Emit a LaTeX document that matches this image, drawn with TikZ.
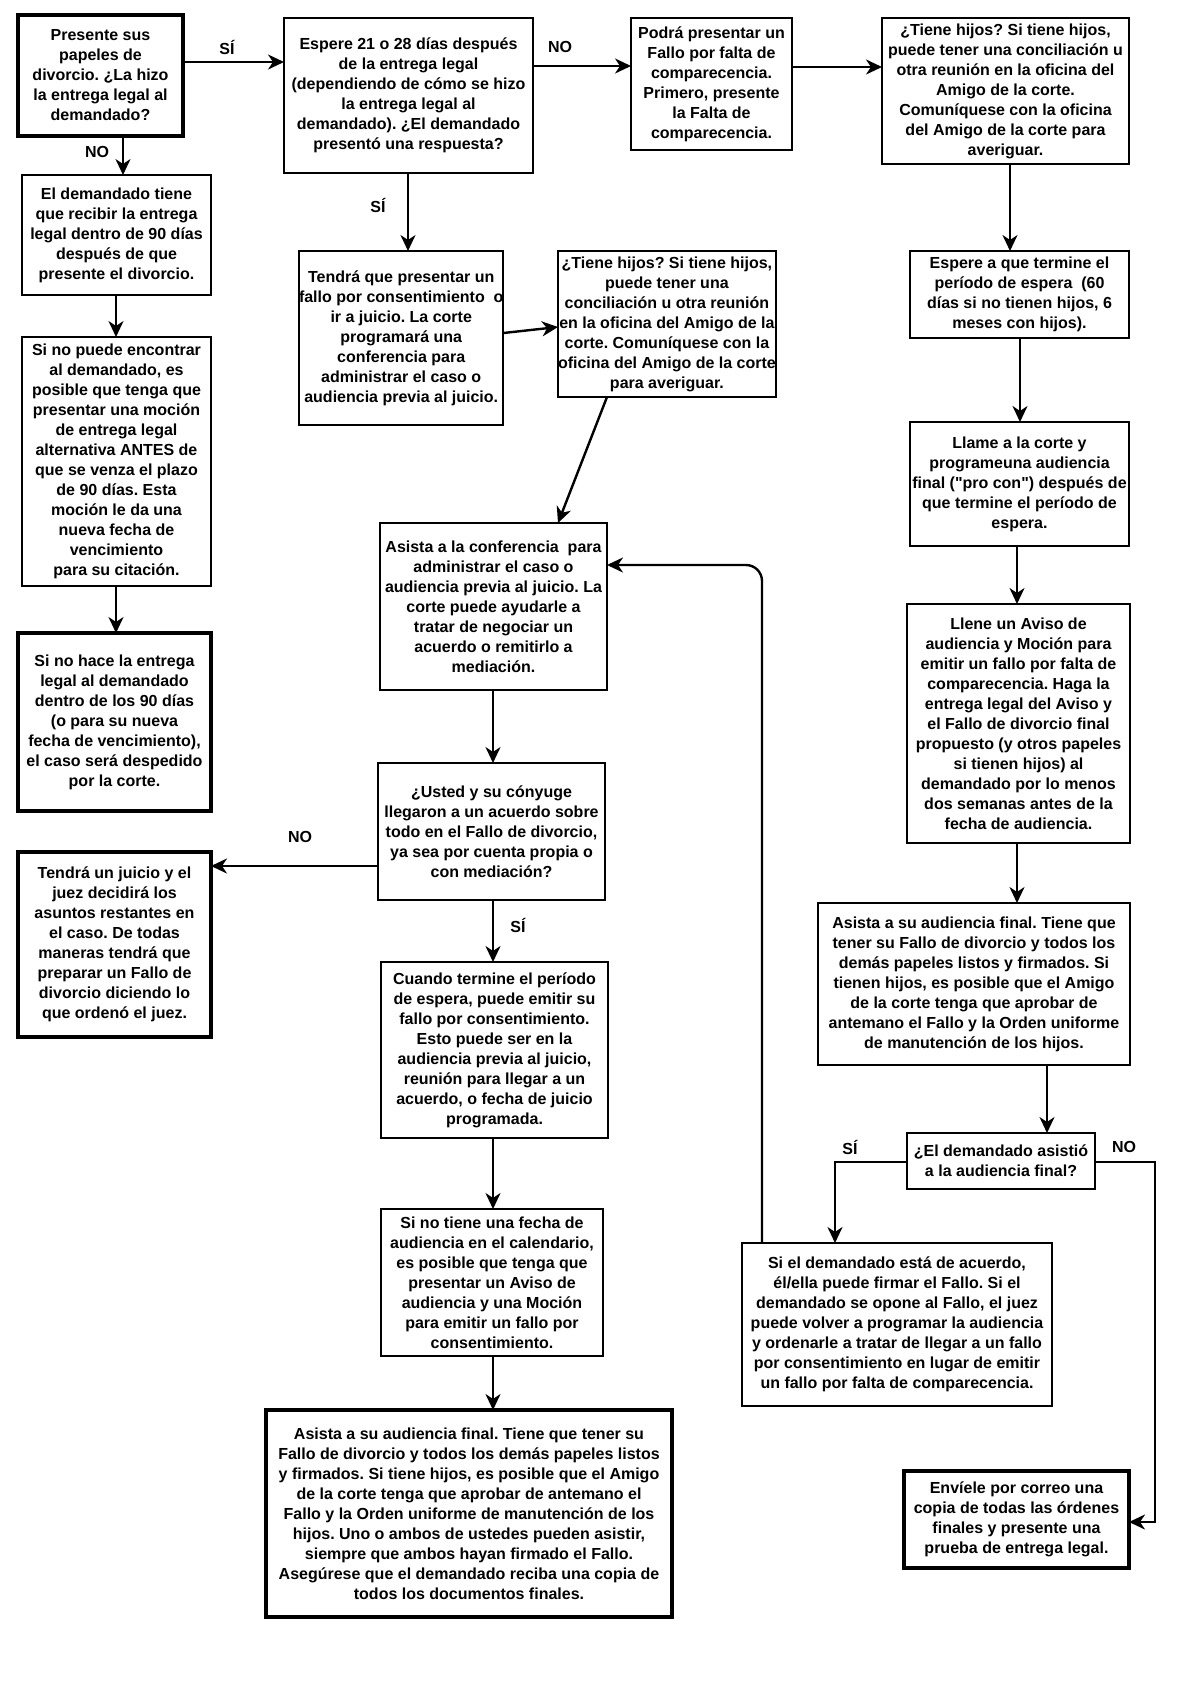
\documentclass[tikz,border=0pt]{standalone}
\usepackage{fontspec}
\setmainfont{Liberation Sans}[Ligatures=TeXOff]
\usetikzlibrary{arrows.meta}
\frenchspacing
\newcommand{\fs}{\fontsize{8}{10}\selectfont\bfseries\frenchspacing}
\newcommand{\bx}[7]{\node[#6, minimum width={(#4-#2)*0.5pt}, minimum height={(#5-#3)*0.5pt}] (#1) at (#2,#3) {#7};}
\tikzset{
  box/.style={draw, line width=1pt, align=center, inner sep=0pt, outer sep=0pt, anchor=north west, font=\fs},
  thickbox/.style={box, line width=2.4pt},
  arr/.style={-{Stealth[length=8pt,width=7.5pt,inset=2.5pt]}, line width=1.2pt},
  lbl/.style={font=\fs, inner sep=0pt}
}
\begin{document}
\begin{tikzpicture}[x=0.5pt,y=-0.5pt]
\useasboundingbox (0,0) rectangle (1200,1698);
\fill[white] (0,0) rectangle (1200,1698);

\bx{B1}{18}{15}{183}{136}{thickbox}{Presente sus\\papeles de\\divorcio. ¿La hizo\\la entrega legal al\\demandado?}
\bx{B2}{284}{18}{533}{173}{box}{Espere 21 o 28 días después\\de la entrega legal\\(dependiendo de cómo se hizo\\la entrega legal al\\demandado). ¿El demandado\\presentó una respuesta?}
\bx{B3}{631}{18}{792}{150}{box}{Podrá presentar un\\Fallo por falta de\\comparecencia.\\Primero, presente\\la Falta de\\comparecencia.}
\bx{B4}{882}{18}{1129}{164}{box}{¿Tiene hijos? Si tiene hijos,\\puede tener una conciliación u\\otra reunión en la oficina del\\Amigo de la corte.\\Comuníquese con la oficina\\del Amigo de la corte para\\averiguar.}
\bx{B5}{22}{175}{211}{295}{box}{El demandado tiene\\que recibir la entrega\\legal dentro de 90 días\\después de que\\presente el divorcio.}
\bx{B6}{22}{337}{211}{586}{box}{Si no puede encontrar\\al demandado, es\\posible que tenga que\\presentar una moción\\de entrega legal\\alternativa ANTES de\\que se venza el plazo\\de 90 días. Esta\\moción le da una\\nueva fecha de\\vencimiento\\para su citación.}
\bx{B7}{18}{633}{211}{811}{thickbox}{Si no hace la entrega\\legal al demandado\\dentro de los 90 días\\(o para su nueva\\fecha de vencimiento),\\el caso será despedido\\por la corte.}
\bx{B8}{18}{852}{211}{1037}{thickbox}{Tendrá un juicio y el\\juez decidirá los\\asuntos restantes en\\el caso. De todas\\maneras tendrá que\\preparar un Fallo de\\divorcio diciendo lo\\que ordenó el juez.}
\bx{B10}{299}{251}{483}{425}{box}{Tendrá que presentar un\\fallo por consentimiento\ \ o\\ir a juicio. La corte\\programará una\\conferencia para\\administrar el caso o\\audiencia previa al juicio.}
\bx{B11}{558}{251}{756}{397}{box}{¿Tiene hijos? Si tiene hijos,\\puede tener una\\conciliación u otra reunión\\en la oficina del Amigo de la\\corte. Comuníquese con la\\oficina del Amigo de la corte\\para averiguar.}
\bx{B12}{380}{523}{607}{690}{box}{Asista a la conferencia\ \ para\\administrar el caso o\\audiencia previa al juicio. La\\corte puede ayudarle a\\tratar de negociar un\\acuerdo o remitirlo a\\mediación.}
\bx{B13}{378}{763}{605}{900}{box}{¿Usted y su cónyuge\\llegaron a un acuerdo sobre\\todo en el Fallo de divorcio,\\ya sea por cuenta propia o\\con mediación?}
\bx{B14}{381}{962}{608}{1138}{box}{Cuando termine el período\\de espera, puede emitir su\\fallo por consentimiento.\\Esto puede ser en la\\audiencia previa al juicio,\\reunión para llegar a un\\acuerdo, o fecha de juicio\\programada.}
\bx{B15}{381}{1209}{603}{1356}{box}{Si no tiene una fecha de\\audiencia en el calendario,\\es posible que tenga que\\presentar un Aviso de\\audiencia y una Moción\\para emitir un fallo por\\consentimiento.}
\bx{B16}{910}{251}{1129}{338}{box}{Espere a que termine el\\período de espera\ \ (60\\días si no tienen hijos, 6\\meses con hijos).}
\bx{B17}{910}{422}{1129}{546}{box}{Llame a la corte y\\programeuna audiencia\\final ("pro con") después de\\que termine el período de\\espera.}
\bx{B18}{907}{604}{1130}{843}{box}{Llene un Aviso de\\audiencia y Moción para\\emitir un fallo por falta de\\comparecencia. Haga la\\entrega legal del Aviso y\\el Fallo de divorcio final\\propuesto (y otros papeles\\si tienen hijos) al\\demandado por lo menos\\dos semanas antes de la\\fecha de audiencia.}
\bx{B19}{818}{903}{1130}{1065}{box}{Asista a su audiencia final. Tiene que\\tener su Fallo de divorcio y todos los\\demás papeles listos y firmados. Si\\tienen hijos, es posible que el Amigo\\de la corte tenga que aprobar de\\antemano el Fallo y la Orden uniforme\\de manutención de los hijos.}
\bx{B20}{907}{1133}{1095}{1189}{box}{¿El demandado asistió\\a la audiencia final?}
\bx{B21}{742}{1243}{1052}{1406}{box}{Si el demandado está de acuerdo,\\él/ella puede firmar el Fallo. Si el\\demandado se opone al Fallo, el juez\\puede volver a programar la audiencia\\y ordenarle a tratar de llegar a un fallo\\por consentimiento en lugar de emitir\\un fallo por falta de comparecencia.}
\bx{B22}{904}{1471}{1129}{1568}{thickbox}{Envíele por correo una\\copia de todas las órdenes\\finales y presente una\\prueba de entrega legal.}
\bx{B23}{266}{1410}{672}{1617}{thickbox}{Asista a su audiencia final. Tiene que tener su\\Fallo de divorcio y todos los demás papeles listos\\y firmados. Si tiene hijos, es posible que el Amigo\\de la corte tenga que aprobar de antemano el\\Fallo y la Orden uniforme de manutención de los\\hijos. Uno o ambos de ustedes pueden asistir,\\siempre que ambos hayan firmado el Fallo.\\Asegúrese que el demandado reciba una copia de\\todos los documentos finales.}

% connectors
\draw[arr] (B1.east |- 0,62) -- (B2.west |- 0,62);
\node[lbl] (L1) at (227,47) {SÍ};
\draw[arr] (B1.south -| 123,0) -- (B5.north -| 123,0);
\node[lbl] (L2) at (97,152) {NO};
\draw[arr] (B2.east |- 0,66) -- (B3.west |- 0,66);
\node[lbl] (L3) at (560,47) {NO};
\draw[arr] (B3.east |- 0,67) -- (B4.west |- 0,67);
\draw[arr] (B2.south -| 408,0) -- (B10.north -| 408,0);
\node[lbl] (L4) at (378,205) {SÍ};
\draw[arr] (B4.south -| 1010,0) -- (B16.north -| 1010,0);
\draw[arr] (B5.south -| 116,0) -- (B6.north -| 116,0);
\draw[arr] (B6.south -| 116,0) -- (B7.north -| 116,0);
\draw[arr] (B10.east |- 0,333) -- (B11.west |- 0,327);
\draw[arr] (B11.south -| 607,0) -- (B12.north -| 558,0);
\draw[arr] (B12.south -| 493,0) -- (B13.north -| 493,0);
\draw[arr] (B13.west |- 0,866) -- (B8.east |- 0,866);
\node[lbl] (L5) at (300,837) {NO};
\draw[arr] (B13.south -| 493,0) -- (B14.north -| 493,0);
\node[lbl] (L6) at (518,925) {SÍ};
\draw[arr] (B14.south -| 493,0) -- (B15.north -| 493,0);
\draw[arr] (B15.south -| 493,0) -- (B23.north -| 493,0);
\draw[arr] (B16.south -| 1020,0) -- (B17.north -| 1020,0);
\draw[arr] (B17.south -| 1017,0) -- (B18.north -| 1017,0);
\draw[arr] (B18.south -| 1017,0) -- (B19.north -| 1017,0);
\draw[arr] (B19.south -| 1047,0) -- (B20.north -| 1047,0);
\draw[arr] (B20.west |- 0,1162) -| (B21.north -| 835,0);
\node[lbl] (L7) at (850,1147) {SÍ};
\coordinate (C1) at (1155,1522);
\draw[arr] (B20.east |- 0,1162) -| (C1) -- (B22.east |- C1);
\node[lbl] (L8) at (1124,1147) {NO};
\draw[arr, rounded corners=8pt] (B21.north -| 762,0) |- (B12.east |- 0,565);
\end{tikzpicture}
\end{document}
